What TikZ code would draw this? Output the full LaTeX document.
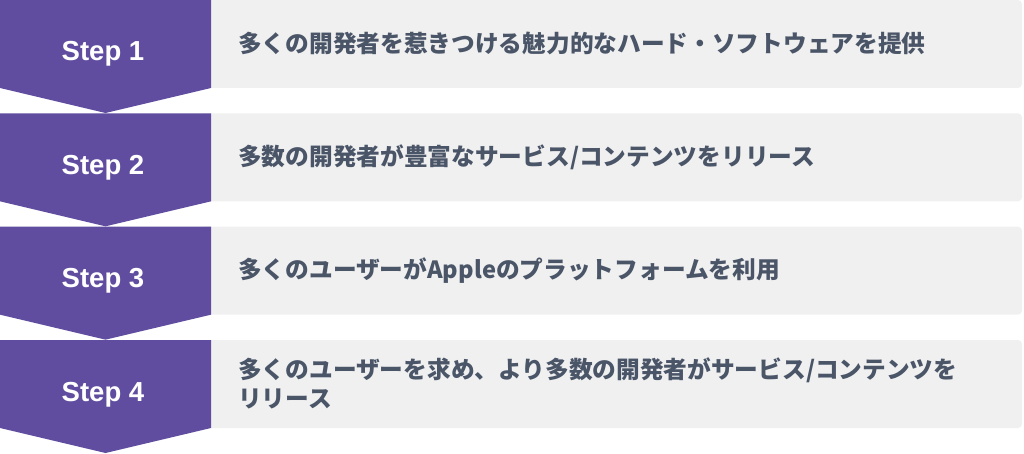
\documentclass[tikz,border=0pt]{standalone}
\usepackage{fontspec}
\newfontfamily\jp{Noto Sans CJK JP}
\newfontfamily\stepfont{Liberation Sans}
\definecolor{purp}{HTML}{604D9F}
\definecolor{boxgray}{HTML}{F0F0F0}
\definecolor{txt}{HTML}{4A5568}
\tikzset{
  steplabel/.style={text=white,font=\stepfont\bfseries\fontsize{27.5}{32}\selectfont,inner sep=0pt,anchor=base},
  desc/.style={text=txt,font=\jp\bfseries\fontsize{23.7}{29}\selectfont,anchor=west,align=left,inner sep=0pt},
  chev/.style={fill=purp},
  panel/.style={fill=boxgray,rounded corners=4pt}
}
\begin{document}
\begin{tikzpicture}[x=1pt,y=-1pt]
\useasboundingbox (0,0) rectangle (1024,454);
\foreach \i/\t in {1/0,2/113.33,3/226.67,4/340}{
  \fill[panel] (200,\t) rectangle (1022,\t+88);
  \fill[chev] (0,\t) -- (211,\t) -- (211,\t+88) -- (105.5,\t+113) -- (0,\t+88) -- cycle;
  \node[steplabel] (s\i) at (103,\t+61) {Step \i};
}
\node[desc] (d1) at (238,43.5) {多くの開発者を惹きつける魅力的なハード・ソフトウェアを提供};
\node[desc] (d2) at (238,156.83) {多数の開発者が豊富なサービス/コンテンツをリリース};
\node[desc] (d3) at (238,270.17) {多くのユーザーがAppleのプラットフォームを利用};
\node[desc] (d4) at (238,383) {多くのユーザーを求め、より多数の開発者がサービス/コンテンツを\\リリース};
\end{tikzpicture}
\end{document}
